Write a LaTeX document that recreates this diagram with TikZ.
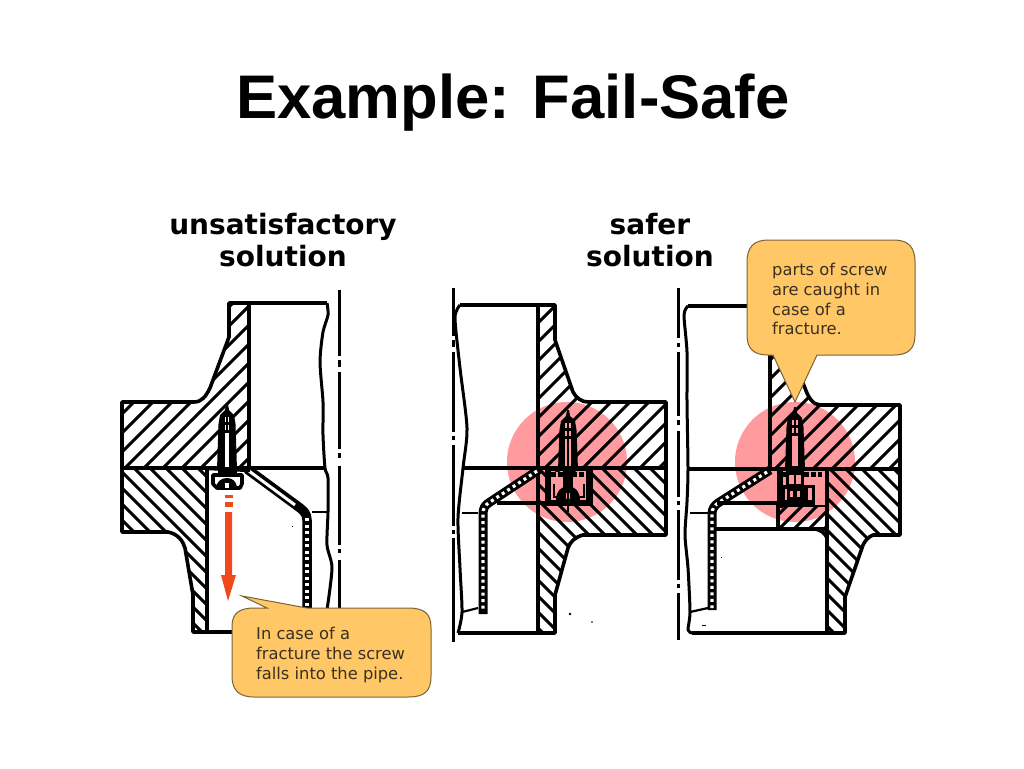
\documentclass[tikz,border=0pt]{standalone}
\usepackage{fontspec}
\setmainfont{Liberation Sans}
\newfontfamily\vfont{DejaVu Sans}
\begin{document}
\definecolor{spot}{HTML}{FF9A9E}
\definecolor{callfill}{HTML}{FFC766}
\definecolor{callline}{HTML}{7A6238}
\definecolor{calltext}{HTML}{3A3020}
\definecolor{fallred}{HTML}{F04A1C}
\newcommand{\hatchup}[3]{\begin{scope}\clip #1;\foreach \c in {0,#2,...,1900}{\draw[hatchline] ({\c+#3},0)--(0,{\c+#3});}\end{scope}}
\newcommand{\hatchdown}[3]{\begin{scope}\clip #1;\foreach \k in {-60,...,60}{\draw[hatchline] ({\k*#2+#3},0)--({\k*#2+#3+800},800);}\end{scope}}
\newcommand{\boltbody}[5]{% x, tip y, bottom y, slot colour, slot half width
  \fill[black] (#1-1,#2) -- (#1+1,#2) -- (#1+2,#2+6) -- (#1+7,#2+11) -- (#1+8.5,#2+20) -- (#1+10,#3) -- (#1-10,#3) -- (#1-8.5,#2+20) -- (#1-7,#2+11) -- (#1-2,#2+6) -- cycle;
  \fill[#4] (#1-#5,#2+13) rectangle (#1+#5,#2+18);
  \fill[#4] (#1-#5,#2+21) rectangle (#1+#5,#2+26);
  \fill[#4] (#1-#5,#2+29) rectangle (#1+#5,#3-4);
  \fill[black] (#1-.7,#2+10) rectangle (#1+.7,#2+28);
}
\begin{tikzpicture}[x=1pt,y=-1pt,
  hatchline/.style={black,line width=3pt},
  outline/.style={black,line width=3.6pt,line join=round},
  wave/.style={black,line width=3pt,line join=round},
  thinline/.style={black,line width=1.6pt},
  axis/.style={black,line width=3pt},
  specks/.style={black,line width=5pt,dash pattern=on 5pt off 2pt},
  callout/.style={fill=callfill,draw=callline,line width=1pt},
  calllabel/.style={text=calltext,font=\vfont\fontsize{16.3}{19.8}\selectfont,align=left,anchor=north west,inner sep=0pt},
  headline/.style={font=\vfont\bfseries\fontsize{28}{32}\selectfont,anchor=base,inner sep=0pt}]
\useasboundingbox (0,0) rectangle (1024,768);
\fill[white] (0,0) rectangle (1024,768);

% titles
\node[font=\bfseries\fontsize{61.6}{64}\selectfont,anchor=base,inner sep=0pt] (title) at (513,118) {Example: Fail-Safe};
\node[headline] (uline1) at (283,234) {unsatisfactory};
\node[headline] (uline2) at (283,266) {solution};
\node[headline] (sline1) at (650,234) {safer};
\node[headline] (sline2) at (650,266) {solution};

% pink spots
\fill[spot] (567,462) circle (60);
\fill[spot] (795,462) circle (60);

% ---------- left drawing
\def\pa{(229,303) -- (229,337) -- (210,388) .. controls (206,396) and (202,402) .. (194,402) -- (122,402) -- (122,468) -- (249,468) -- (249,303) -- cycle}
\def\pb{(122,468) -- (122,532) -- (168,532) .. controls (178,534) and (183,541) .. (185,548) -- (193,595) -- (193,632) -- (207,632) -- (207,468) -- cycle}
\hatchup{\pa}{19}{4}
\hatchdown{\pb}{16}{2}
\draw[outline] \pa;
\draw[outline] \pb;
\draw[outline] (229,303) -- (327,303);
\draw[outline] (193,632) -- (240,632);
\draw[wave] plot[smooth,tension=.45] coordinates {(327,303) (328,315) (323,332) (320,362) (323,402) (323,435) (325,468) (328,478) (328,512) (327,545) (332,568) (327,610)};
\draw[outline] (249,468) -- (325,468);
\draw[axis] (339,290) -- (339,356) (339,360) -- (339,367) (339,372) -- (339,449) (339,453) -- (339,458) (339,466) -- (339,545) (339,549) -- (339,553) (339,560) -- (339,610);
% liner
\draw[black,line width=9.5pt,line join=round] (247,469) -- (296,505) .. controls (303,510) and (307,513) .. (307,520) -- (307,610);
\draw[white,line width=3pt] (249,471) -- (295,505);
\draw[white,line width=3.4pt,dash pattern=on 3pt off 3.5pt] (307,518) -- (307,610);
\draw[thinline] (312,512) -- (328,512);
\fill[black] (292,526) rectangle (293,527);
% screw
\boltbody{227}{404}{470}{white}{2}
\fill[black] (218,467) rectangle (237,476);
\fill[white] (225,463) rectangle (229,467);
\draw[black,line width=3.6pt,line join=round,fill=white] (213,475) -- (213,484) -- (217,488) -- (240,488) -- (242,484) -- (242,475) -- cycle;
\fill[black] (216,489) .. controls (216,481) and (222,478) .. (227,478) .. controls (232,478) and (237,481) .. (237,489) -- cycle;
\fill[white] (225,483) rectangle (229,488);
\draw[black,line width=2.4pt] (208,469) -- (250,471);
% red arrow
\fill[fallred] (225,495) rectangle (233,498);
\fill[fallred] (225,502) rectangle (233,507);
\fill[fallred] (225,512) -- (232,512) -- (232,575) -- (236,575) -- (228,601) -- (221,575) -- (225,575) -- cycle;

% ---------- middle drawing
\def\pc{(555,305) -- (555,340) -- (573,392) .. controls (576,398) and (582,402) .. (588,402) -- (666,402) -- (666,468) -- (538,468) -- (538,305) -- cycle}
\def\pd{(666,468) -- (666,535) -- (583,535) .. controls (575,537) and (570,542) .. (568,548) -- (555,595) -- (555,633) -- (538,633) -- (538,468) -- cycle}
\hatchup{\pc}{19}{6}
\hatchdown{\pd}{16}{6}
\draw[outline] \pc;
\draw[outline] \pd;
\draw[outline] (460,305) -- (538,305);
\draw[outline] (458,633) -- (538,633);
\draw[wave] plot[smooth,tension=.45] coordinates {(460,305) (455,318) (460,368) (467,428) (463,468) (458,518) (460,568) (462,612) (458,633)};
\draw[outline] (463,468) -- (538,468);
\draw[axis] (453,288) -- (453,336) (453,340) -- (453,347) (453,352) -- (453,432) (453,436) -- (453,440) (453,445) -- (453,526) (453,530) -- (453,534) (453,538) -- (453,642);
\draw[black,line width=9pt,line join=round] (540,469) -- (490,502) .. controls (485,505) and (483,508) .. (483,514) -- (483,614);
\draw[white,line width=3.2pt,dash pattern=on 3pt off 3.5pt] (537,471) -- (490,502) .. controls (485,505) and (483,508) .. (483,514) -- (483,612);
\draw[black,line width=4.6pt] (497,503) -- (547,503);
\draw[thinline] (462,513) -- (478,513);
\draw[thinline,line width=2.2pt] (462,612) -- (478,608);
\fill[black] (570,614) circle (1.3);
\fill[black] (592,622) circle (.9);
% pocket and screw
\fill[spot] (548,472) rectangle (592,503);
\draw[black,line width=6.5pt,line join=miter] (548,470) -- (548,503) -- (589.5,503) -- (589.5,470);
\draw[outline] (547,469) -- (592,469);
\draw[specks] (551,474) -- (587,474);
\draw[black,line width=1.4pt] (554,484) -- (554,497) -- (584,497) -- (584,484);
\boltbody{568}{410}{470}{spot}{3}
\fill[black] (567.2,438) rectangle (568.8,470);
\fill[black] (563,468) rectangle (573,488);
\fill[black] (556,500) .. controls (556,491) and (562,486) .. (568,486) .. controls (574,486) and (580,491) .. (580,500) -- cycle;
\fill[spot] (566,493) rectangle (570,499);
\fill[black] (567,470) rectangle (569,512);

% ---------- right drawing
\def\pf{(805,388) -- (770,306) -- (770,469) -- (900,469) -- (900,405) -- (820,405) .. controls (813,405) and (808,397) .. (805,388) -- cycle}
\def\pg{(900,469) -- (900,535) -- (873,535) .. controls (868,537) and (865,541) .. (863,545) -- (845,597) -- (845,633) -- (827,633) -- (827,469) -- cycle}
\def\ph{(778,505) -- (827,505) -- (827,529) -- (778,529) -- cycle}
\hatchup{\pf}{19}{9}
\hatchdown{\pg}{16}{9}
\hatchup{\ph}{15}{3}
\draw[outline] \pf;
\draw[outline] \pg;
\draw[outline] (688,306) -- (770,306);
\draw[outline] (692,633) -- (845,633);
\draw[wave] plot[smooth,tension=.45] coordinates {(688,306) (684,315) (687,352) (687,402) (688,469) (687,502) (685,535) (688,568) (690,612) (688,630) (692,633)};
\draw[outline] (688,469) -- (770,469);
\draw[axis] (678,288) -- (678,338) (678,343) -- (678,347) (678,352) -- (678,416) (678,420) -- (678,425) (678,431) -- (678,497) (678,501) -- (678,505) (678,510) -- (678,580) (678,584) -- (678,588) (678,593) -- (678,640);
\draw[black,line width=9pt,line join=round] (770,470) -- (718,503) .. controls (714,506) and (712,509) .. (712,514) -- (712,610);
\draw[white,line width=3.2pt,dash pattern=on 3pt off 3.5pt] (767,472) -- (718,503) .. controls (714,506) and (712,509) .. (712,514) -- (712,608);
\draw[black,line width=4.6pt] (717,503) -- (780,503);
\draw[thinline] (690,513) -- (708,513);
\draw[thinline,line width=2.2pt] (690,612) -- (708,608);
\draw[outline] (716,529) -- (815,529) .. controls (821,530) and (825,533) .. (827,538);
\draw[outline] \ph;
\fill[black] (721,557) rectangle (722,558);
\fill[black] (702,625) rectangle (706,626);
% pocket and screw
\fill[spot] (779,472) rectangle (825,505);
\fill[black] (777,470) rectangle (783,508);
\fill[black] (782,485) rectangle (815,507);
\draw[outline] (775,469) -- (827,469);
\draw[specks] (783,474) -- (822,474);
\boltbody{795}{407}{470}{spot}{3}
\fill[black] (786,468) rectangle (804,487);
\fill[spot] (789,475) rectangle (801,484);
\fill[black] (794,470) rectangle (796,484);
\fill[spot] (790,491) rectangle (793,497);
\fill[spot] (797,491) rectangle (800,497);
\fill[spot] (785,489) rectangle (787,500);
\fill[spot] (808,488) rectangle (812,500);

% ---------- callouts
\path[callout] (232,626) .. controls (232,613) and (240,608) .. (254,608) -- (267,608) -- (242,596) -- (307,608) -- (408,608) .. controls (425,608) and (431,614) .. (431,628) -- (431,676) .. controls (431,691) and (425,697) .. (408,697) -- (254,697) .. controls (240,697) and (232,691) .. (232,676) -- cycle;
\node[calllabel] (lefttext) at (256,627) {In case of a\\fracture the screw\\falls into the pipe.};
\path[callout] (747,262) .. controls (747,247) and (754,240) .. (768,240) -- (894,240) .. controls (908,240) and (915,247) .. (915,262) -- (915,335) .. controls (915,349) and (908,355) .. (894,355) -- (817,355) -- (795,402) -- (773,355) -- (768,355) .. controls (754,355) and (747,349) .. (747,335) -- cycle;
\node[calllabel] (righttext) at (772,263) {parts of screw\\are caught in\\case of a\\fracture.};
\end{tikzpicture}
\end{document}
